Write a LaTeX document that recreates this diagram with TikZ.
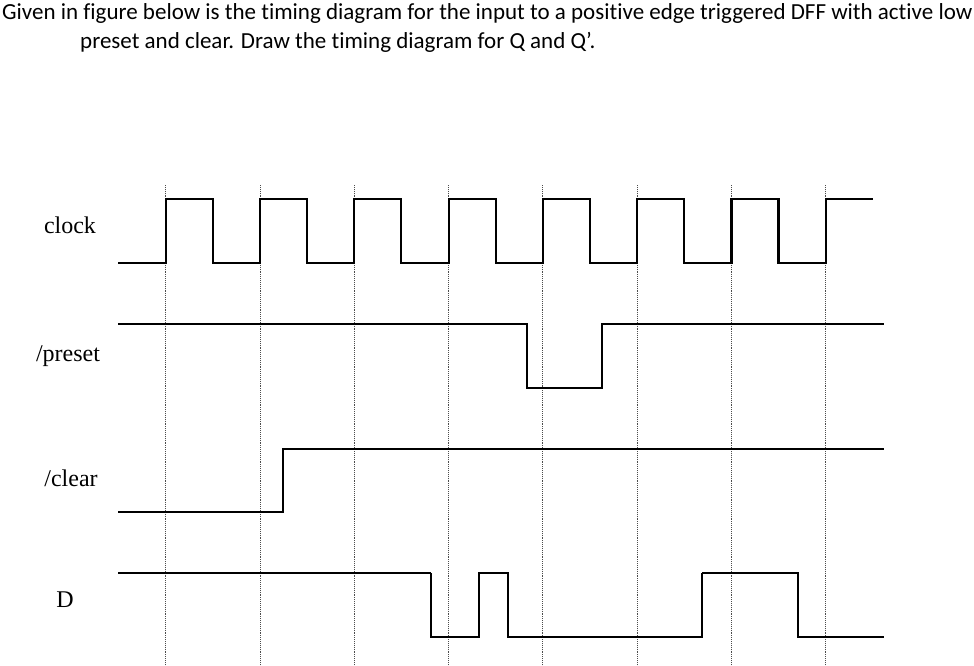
\documentclass[tikz,border=0pt]{standalone}
\usepackage{fontspec}
\setmainfont{Liberation Serif}
\newfontfamily\titrefont[Ligatures=NoCommon]{Carlito}
\begin{document}
\begin{tikzpicture}[x=1pt,y=-1pt]
			\tikzstyle{signal}=[line width=2.2pt,line join=miter]
			\tikzstyle{signalfin}=[line width=1.6pt,line join=miter]
			\tikzstyle{repere}=[densely dotted,line width=0.9pt,black!70]
			\tikzstyle{etiquette}=[font=\fontsize{24}{28}\selectfont,inner sep=0pt]
			\tikzstyle{titre}=[font=\titrefont\fontsize{23}{27}\selectfont,inner sep=0pt,anchor=base west]
			\def\Periode{94.3}
			\def\Debut{165.7}
			\def\DemiPeriode{47}
			\def\Gauche{118}
			\def\Droite{884}
			\useasboundingbox (0,0) rectangle (974,666);
			% enonce
			\node[titre] (t1) at (2,20) {Given in figure below is the timing diagram for the input to a positive edge triggered DFF with active low};
			\node[titre] (t2) at (80,49) {preset and clear. Draw the timing diagram for Q and Q’.};
			% reperes aux fronts montants
			\foreach \k in {0,...,7}
				\draw[repere] ({\Debut+\k*\Periode},185) -- ({\Debut+\k*\Periode},666);
			% noms des signaux
			\node[etiquette] (clk) at (70,225) {clock};
			\node[etiquette] (pre) at (68,356) {/preset};
			\node[etiquette] (clr) at (71,478) {/clear};
			\node[etiquette] (d) at (65,600) {D};
			% horloge
			\draw[signal] (\Gauche,263) foreach \k in {0,...,6} {
				-- ({\Debut+\k*\Periode},263) -- ++(0,-64) -- ++(\DemiPeriode,0) -- ++(0,64)}
				-- ({\Debut+7*\Periode},263) -- ++(0,-64) -- (873,199);
			% preset
			\draw[signal] (\Gauche,324) -- (527,324) -- (527,388) -- (602,388) -- (602,324) -- (\Droite,324);
			% clear
			\draw[signal] (\Gauche,512) -- (283,512) -- (283,449) -- (\Droite,449);
			% D
			\draw[signal] (\Gauche,573) -- (431,573);
			\draw[signalfin] (431,573) -- (431,637) -- (479,637) -- (479,573) -- (508,573) -- (508,637) -- (702,637) -- (702,573);
			\draw[signal] (702,573) -- (798,573) -- (798,637) -- (\Droite,637);
		\end{tikzpicture}
\end{document}
